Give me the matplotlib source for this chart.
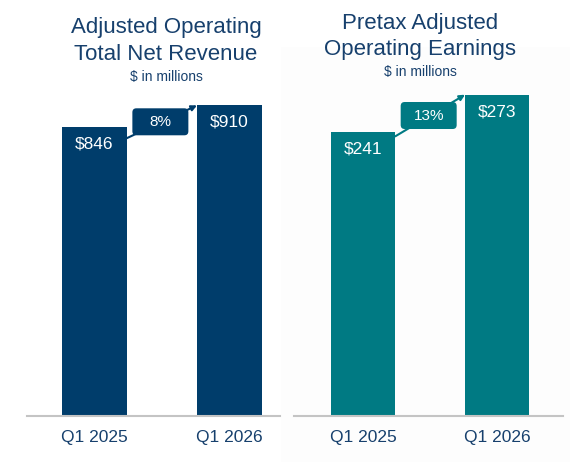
import matplotlib
matplotlib.use("Agg")
import matplotlib.pyplot as plt
from matplotlib.patches import FancyBboxPatch, Rectangle
from matplotlib.transforms import IdentityTransform

plt.rcParams['font.family'] = ['Liberation Sans', 'DejaVu Sans']

# ---- data ----
categories = ["Q1 2025", "Q1 2026"]
revenue = [846, 910]
earnings = [241, 273]
revenue_growth = "8%"
earnings_growth = "13%"
titles = [["Adjusted Operating", "Total Net Revenue"],
          ["Pretax Adjusted", "Operating Earnings"]]
subtitle = "$ in millions"

NAVY = "#003d6b"
TEAL = "#007a83"
TEXT = "#17406d"
W, H = 570, 472

fig = plt.figure(figsize=(W / 100, H / 100), dpi=100)

# very faint background panel on the right
fig.add_artist(Rectangle((281 / W, (H - 462) / H), (W - 281) / W, (462 - 47) / H,
                         transform=fig.transFigure, facecolor="#fdfdfd",
                         edgecolor="none", zorder=-5))

def px(x, y):
    """top-left pixel coords -> figure fraction"""
    return x / W, (H - y) / H

bottom_px = 415.7
ax_h = 341.0
panels = [
    dict(vals=revenue, growth=revenue_growth, color=NAVY, left=26.7, right=280,
         xlim=(-0.5, 1.374), ymax=1000, title=titles[0], tcx=166, drop=11,
         tys=(33, 60, 81)),
    dict(vals=earnings, growth=earnings_growth, color=TEAL, left=294, right=563,
         xlim=(-0.515, 1.49), ymax=290, title=titles[1], tcx=420, drop=4,
         tys=(29, 55, 76)),
]

bar_w = 0.48
for p in panels:
    ax = fig.add_axes([p["left"] / W, (H - bottom_px) / H,
                       (p["right"] - p["left"]) / W, ax_h / H])
    ax.set_facecolor("none")
    x = range(len(categories))
    ax.bar(x, p["vals"], width=bar_w, color=p["color"], zorder=2)
    ax.set_xlim(*p["xlim"])
    ax.set_ylim(0, p["ymax"])
    ax.set_xticks(list(x))
    ax.set_xticklabels(categories, fontsize=12.5, color=TEXT)
    ax.tick_params(axis="x", length=0, pad=10)
    ax.set_yticks([])
    for s in ["left", "right", "top"]:
        ax.spines[s].set_visible(False)
    ax.spines["bottom"].set_color("#c4c4c4")
    ax.spines["bottom"].set_linewidth(1.5)

    for xi, v in zip(x, p["vals"]):
        ax.annotate(f"${v}", (xi, v), xytext=(0, -12.3), textcoords="offset points",
                    ha="center", va="center", color="white", fontsize=12.5, zorder=5)

    # growth arrow + box (pixel space)
    fig.canvas.draw()
    p0 = ax.transData.transform((bar_w / 2, p["vals"][0]))
    p1 = ax.transData.transform((1 - bar_w / 2, p["vals"][1]))
    p0 = (p0[0], p0[1] - p["drop"])
    ax.annotate("", xy=p1, xycoords=IdentityTransform(), xytext=p0,
                textcoords=IdentityTransform(),
                arrowprops=dict(arrowstyle="-|>", color=p["color"], lw=1.5,
                                mutation_scale=8, shrinkA=0, shrinkB=0),
                zorder=3, annotation_clip=False)
    cx, cy = (p0[0] + p1[0]) / 2 - 1.5, (p0[1] + p1[1]) / 2
    bw, bh = 56, 27
    box = FancyBboxPatch((cx - bw / 2, cy - bh / 2), bw, bh,
                         boxstyle="round,pad=0,rounding_size=4",
                         transform=IdentityTransform(), facecolor=p["color"],
                         edgecolor="none", zorder=4, clip_on=False)
    ax.add_patch(box)
    ax.text(cx, cy, p["growth"], transform=IdentityTransform(), ha="center",
            va="center", color="white", fontsize=11, zorder=5)

    # titles
    for line, ty in zip(p["title"], p["tys"][:2]):
        fig.text(*px(p["tcx"], ty), line, ha="center", va="baseline",
                 fontsize=16, color=TEXT)
    fig.text(*px(p["tcx"], p["tys"][2]), subtitle, ha="center", va="baseline",
             fontsize=10, color=TEXT)

fig.savefig("out.png", dpi=100)
